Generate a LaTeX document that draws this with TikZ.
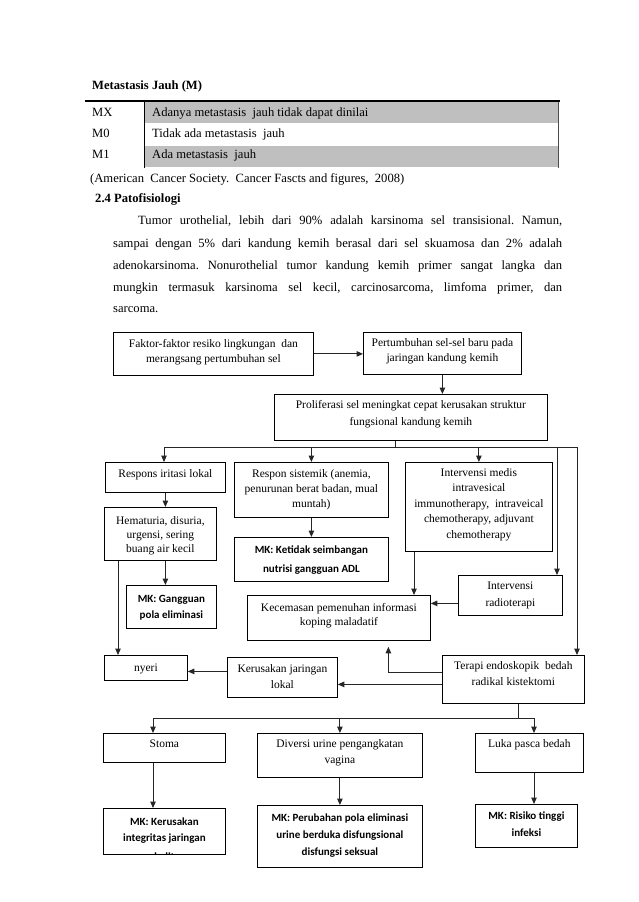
\documentclass[tikz,border=0pt]{standalone}
\usepackage{fontspec}
\setmainfont{Liberation Serif}
\newfontfamily\mkfont{Carlito}
\usetikzlibrary{arrows.meta}
\usetikzlibrary{positioning}
\frenchspacing
\newlength{\boxskip}
\newcommand{\bx}[4]{\parbox[c][#2pt][t]{#1pt}{\centering\baselineskip=\boxskip\rule{0pt}{#3pt}#4}}
\tikzset{leading/.code={\setlength{\boxskip}{#1pt}},
  flow box/.style={draw, line width=0.8pt, inner sep=0pt, anchor=north west, leading=15.5,
    font=\fontsize{11.5}{15.5}\selectfont},
  mk box/.style={flow box, leading=17, font=\mkfont\bfseries\fontsize{11}{17}\selectfont},
  link/.style={line width=1pt, draw=black!85, -{Triangle[length=6.5pt,width=5.5pt]}},
  bus/.style={line width=1pt, draw=black!85},
  txt/.style={inner sep=0pt, anchor=base west, font=\fontsize{12.6}{15}\selectfont},}

\begin{document}
\begin{tikzpicture}[x=1pt,y=-1pt]
  \useasboundingbox (0,0) rectangle (638,902);
  % table of metastasis
  \node[txt, font=\bfseries\fontsize{12.6}{15}\selectfont] (title) at (92,89.5) {Metastasis Jauh (M)};
  \fill[black!25] (144,102) rectangle (558,123);
  \fill[black!25] (144,146) rectangle (558,167);
  \draw[line width=2.5pt] (85,101) -- (560,101);
  \draw[line width=0.8pt] (144,102) -- (144,168);
  \draw[line width=0.8pt, black!70] (558,102) -- (558,168);
  \node[txt] (mx) at (92,116) {MX};
  \node[txt] (mxtext) at (152,116) {Adanya metastasis\ \ jauh tidak dapat dinilai};
  \node[txt] (m0) at (92,137) {M0};
  \node[txt] (m0text) at (152,137) {Tidak ada metastasis\ \ jauh};
  \node[txt] (m1) at (92,158) {M1};
  \node[txt] (m1text) at (152,158) {Ada metastasis\ \ jauh};
  \node[txt] (source) at (90,182) {(American\ \ Cancer Society.\ \ Cancer Fascts and figures,\ \ 2008)};

  % patofisiologi
  \node[txt, font=\bfseries\fontsize{12.6}{15}\selectfont] (section) at (95,202.5) {2.4 Patofisiologi};
  \node[txt] (par1) at (138,224.5) {\makebox[424pt][s]{Tumor urothelial, lebih dari 90\% adalah karsinoma sel transisional. Namun,}};
  \node[txt] (par2) at (113,247.5) {\makebox[449pt][s]{sampai dengan 5\% dari kandung kemih berasal dari sel skuamosa dan 2\% adalah}};
  \node[txt] (par3) at (113,269.5) {\makebox[449pt][s]{adenokarsinoma. Nonurothelial tumor kandung kemih primer sangat langka dan}};
  \node[txt] (par4) at (113,291.5) {\makebox[449pt][s]{mungkin termasuk karsinoma sel kecil, carcinosarcoma, limfoma primer, dan}};
  \node[txt] (par5) at (113,312.5) {sarcoma.};

  % flowchart
  \node[flow box] (risk) at (113,332) {\bx{200}{43}{15}{Faktor-faktor resiko lingkungan\ \ dan\\merangsang pertumbuhan sel}};
  \node[flow box] (growth) at (363,332) {\bx{158}{42}{14}{Pertumbuhan sel-sel baru pada\\jaringan\ kandung kemih}};
  \node[flow box, leading=17] (prolif) at (274,394) {\bx{273}{46}{14}{Proliferasi sel meningkat cepat kerusakan struktur\\fungsional\ kandung kemih}};
  \node[flow box] (local) at (105,462) {\bx{120}{30}{15}{Respons iritasi\ lokal}};
  \node[flow box, leading=15] (system) at (234,462) {\bx{154}{55}{15}{Respon sistemik (anemia,\\penurunan berat badan, mual\\muntah)}};
  \node[flow box] (medis) at (405,462) {\bx{147}{89}{14}{Intervensi medis\\intravesical\\immunotherapy,\ \ intraveical\\chemotherapy, adjuvant\\chemotherapy}};
  \node[flow box, leading=14] (hemat) at (104,507) {\bx{112}{53}{17}{Hematuria, disuria,\\urgensi,\ sering\\buang air kecil}};
  \node[mk box, leading=19] (nutri) at (234,537) {\bx{154}{44}{16}{MK: Ketidak seimbangan\\nutrisi gangguan ADL}};
  \node[mk box, leading=16] (elim) at (126,585) {\bx{90}{43}{17}{MK: Gangguan\\pola eliminasi}};
  \node[flow box, leading=14] (cemas) at (247,595) {\bx{183}{45}{16}{Kecemasan pemenuhan informasi\\koping\ maladatif}};
  \node[flow box, leading=17] (radio) at (458,575) {\bx{104}{40}{14}{Intervensi\\radioterapi}};
  \node[flow box] (nyeri) at (104,655) {\bx{83}{25}{16}{nyeri}};
  \node[flow box, leading=16] (damage) at (227,657) {\bx{110}{40}{15}{Kerusakan jaringan\\lokal}};
  \node[flow box, leading=16] (surgery) at (442,655) {\bx{142}{48}{14}{Terapi endoskopik\ \ bedah\\radikal kistektomi}};
  \node[flow box] (stoma) at (103,733) {\bx{122}{29}{14}{Stoma}};
  \node[flow box, leading=16] (divers) at (257,733) {\bx{165}{44}{14}{Diversi urine pengangkatan\\vagina}};
  \node[flow box] (wound) at (475,733) {\bx{108}{39}{14}{Luka pasca bedah}};
  \begin{scope}
    \clip (102,807) rectangle (226,854.5);
    \node[mk box, leading=16] (skin) at (103,808) {\bx{122}{46}{17}{MK: Kerusakan\\integritas jaringan\\[3pt]kulit}};
  \end{scope}
  \node[mk box, leading=17] (urine) at (257,805) {\bx{165}{62}{16}{MK: Perubahan pola eliminasi\\urine berduka disfungsional\\disfungsi seksual}};
  \node[mk box, leading=17] (infect) at (475,804) {\bx{102}{43}{15}{MK: Risiko tinggi\\infeksi}};

  % connectors
  \coordinate (split) at (395,447);
  \coordinate (busL) at (164,447);
  \coordinate (busR) at (577,447);
  \coordinate (radioIn) at (557,447);
  \coordinate (lowL) at (153,718);
  \coordinate (lowR) at (534,718);
  \coordinate (hemOut) at ([xshift=14pt]hemat.south west);
  \coordinate (medOut) at ([xshift=9pt]medis.south west);
  \coordinate (radOut) at ([yshift=-8pt]radio.west);
  \coordinate (surgUp) at ([yshift=7pt]surgery.west);
  \coordinate (surgLeft) at ([yshift=-5pt]surgery.west);
  \coordinate (surgDown) at ([xshift=5pt]surgery.south);
  \coordinate (cemasIn) at ([xshift=49.5pt]cemas.south);
  \coordinate (damOut) at ([yshift=6pt]damage.west);

  \draw[link] (risk.east) -- (risk.east -| growth.west);
  \draw[link] (growth.south) -- (growth.south |- prolif.north);
  \draw[bus] (prolif.south -| split) -- (split);
  \draw[bus] (busL) -- (busR);
  \draw[link] (busL) -- (busL |- local.north);
  \draw[link] (busL -| system) -- (system);
  \draw[link] (busL -| medis) -- (medis);
  \draw[link] (radioIn) -- (radioIn |- radio.north);
  \draw[link] (busR) -- (busR |- surgery.north);
  \draw[link] (local.south) -- (local.south |- hemat.north);
  \draw[link] (local.south |- hemat.south) -- (local.south |- elim.north);
  \draw[link] (hemOut) -- (hemOut |- nyeri.north);
  \draw[link] (system) -- (nutri);
  \draw[link] (medOut) -- (medOut |- cemas.north);
  \draw[link] (radOut) -- (radOut -| cemas.east);
  \draw[link, shorten >=6pt] (surgUp) -| (cemasIn);
  \draw[link] (surgLeft) -- (surgLeft -| damage.east);
  \draw[link] (damOut) -- (damOut -| nyeri.east);
  \draw[bus] (surgDown) -- (surgDown |- lowL);
  \draw[bus] (lowL) -- (lowR);
  \draw[link] (lowL) -- (lowL |- stoma.north);
  \draw[link] (lowL -| divers) -- (divers);
  \draw[link] (lowR) -- (lowR |- wound.north);
  \draw[link] (lowL |- stoma.south) -- (lowL |- skin.north);
  \draw[link] (divers) -- (urine);
  \draw[link] (lowR |- wound.south) -- (lowR |- infect.north);
\end{tikzpicture}
\end{document}
